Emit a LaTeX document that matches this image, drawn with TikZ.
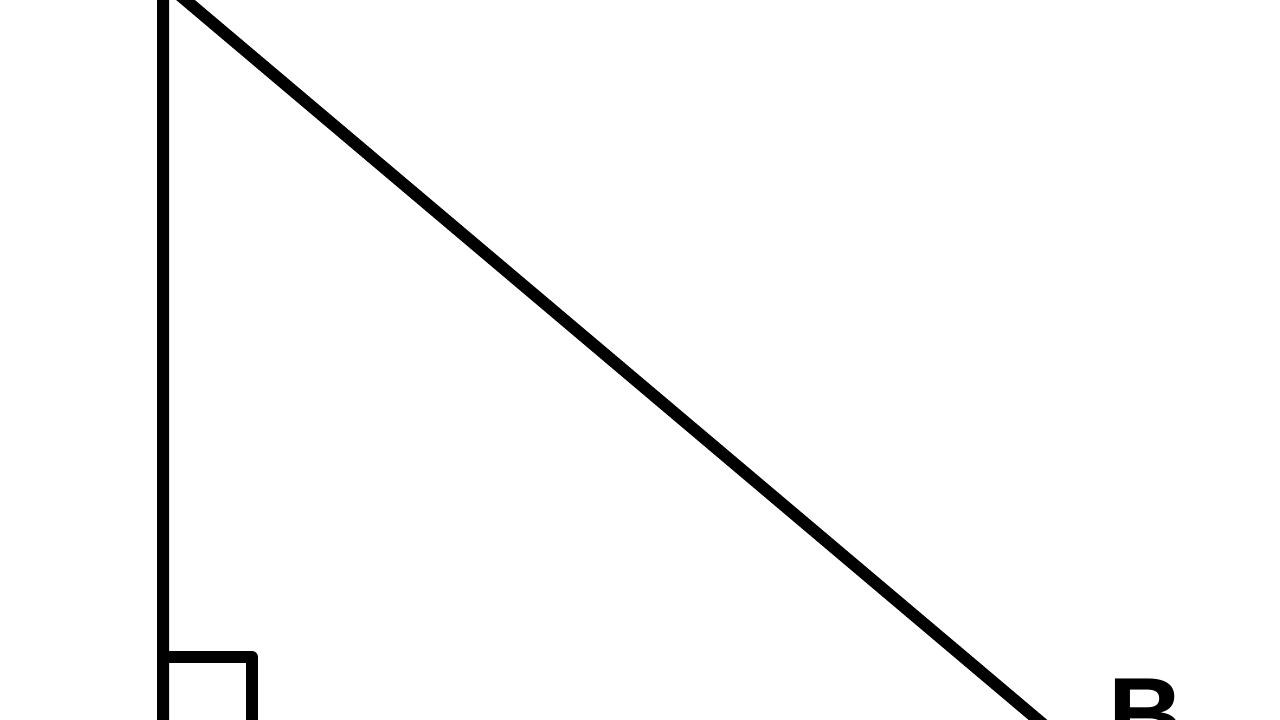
\documentclass[tikz,border=0pt]{standalone}
\usepackage{fontspec}
\setmainfont{Liberation Sans}
\begin{document}
\begin{tikzpicture}[x=1pt,y=-1pt,side/.style={line width=12pt,black,line join=round}]
    \useasboundingbox (0,0) rectangle (1280,720);
    \clip (0,0) rectangle (1280,720);
    \coordinate (A) at (163,-19);
    \coordinate (C) at (163,747);
    \coordinate (B) at (1070,747);
    \draw[side](A)--(C)--(B)--cycle;
    \draw[side](163,657)--(252,657)--(252,747);
    \node[anchor=north west,inner sep=0pt,font=\bfseries\fontsize{104}{104}\selectfont] (labB) at (1108,679) {B};
  \end{tikzpicture}
\end{document}
